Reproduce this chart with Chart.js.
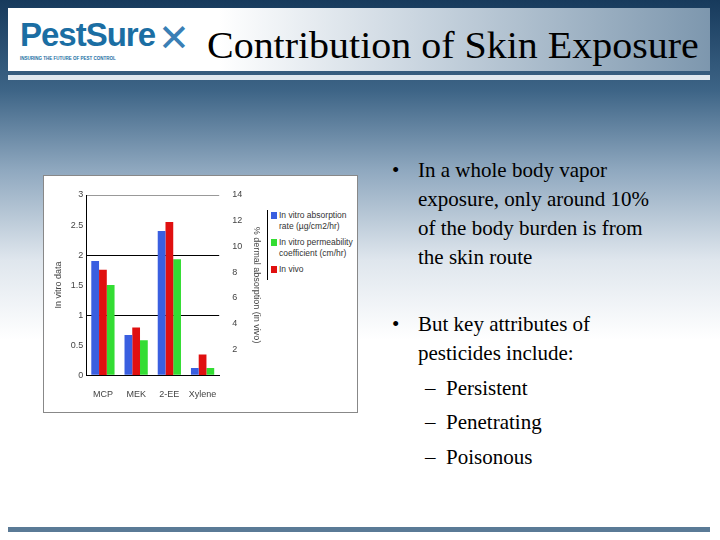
<!DOCTYPE html>
<html><head><meta charset="utf-8">
<script src="https://cdn.jsdelivr.net/npm/chart.js"></script>
<style>
body{margin:0;width:720px;height:540px;overflow:hidden;position:relative;font-family:"Liberation Serif",serif;
background:linear-gradient(180deg,#173a5c 0px,#3d6486 90px,#8fa8bf 170px,#dfe6ed 260px,#ffffff 340px,#ffffff 100%);}
#hdr{position:absolute;left:8px;top:8px;width:702px;height:63px;background:linear-gradient(90deg,#fff 0%,#fff 30%,#c7d3de 60%,#7d97ae 100%);}
#bar{position:absolute;left:8px;top:75px;width:702px;height:5px;background:#dfe7ee;}
#bot{position:absolute;left:8px;top:527px;width:702px;height:5px;background:#5a7a96;}
#logo{position:absolute;left:20px;top:16px;font-family:"Liberation Sans",sans-serif;font-weight:bold;font-size:33px;color:#1b6ea3;letter-spacing:-1px}
#tag{position:absolute;left:20px;top:56px;font-family:"Liberation Sans";font-size:4.5px;font-weight:bold;color:#1b6ea3}
#x{position:absolute;left:158px;top:16px;font-family:"DejaVu Sans";font-size:38px;color:#3a7fb5}
#title{position:absolute;left:207px;top:24px;font-size:37px;color:#000;transform:scaleX(1.08);transform-origin:left}
#box{position:absolute;left:43px;top:175px;width:313px;height:236px;background:#fff;border:1px solid #888}
#wrap{position:absolute;left:43px;top:175px;width:224px;height:237px}
#leg{position:absolute;left:267px;top:210px;border-left:1px solid #000;padding-left:3px;font-family:"Liberation Sans";font-size:8.5px;color:#333;line-height:11px;width:86px}
#leg div{margin-bottom:5px;position:relative;padding-left:8px}
#leg span{position:absolute;left:0;top:2px;width:6px;height:7px}
.t{position:absolute;font-size:21px;color:#000;line-height:29px}
</style></head><body>
<div id="hdr"></div><div id="bar"></div><div id="bot"></div>
<div id="logo">PestSure</div><div id="tag">INSURING THE FUTURE OF PEST CONTROL</div><div id="x">✕</div>
<div id="title">Contribution of Skin Exposure</div>
<div id="box"></div>
<div id="wrap"><canvas id="c"></canvas></div>
<div id="leg">
<div><span style="background:#3a5fe0"></span>In vitro absorption rate (µg/cm2/hr)</div>
<div><span style="background:#33dd33"></span>In vitro permeability coefficient (cm/hr)</div>
<div><span style="background:#e01010"></span>In vivo</div>
</div>
<div class="t" style="left:392px;top:156px">•</div>
<div class="t" style="left:418px;top:156px">In a whole body vapor<br>exposure, only around 10%<br>of the body burden is from<br>the skin route</div>
<div class="t" style="left:392px;top:310px">•</div>
<div class="t" style="left:418px;top:310px">But key attributes of<br>pesticides include:</div>
<div class="t" style="left:425px;top:374px">–&nbsp; Persistent</div>
<div class="t" style="left:425px;top:408px">–&nbsp; Penetrating</div>
<div class="t" style="left:425px;top:443px">–&nbsp; Poisonous</div>
<script>
const categories=["MCP","MEK","2-EE","Xylene"];
const absorptionRate=[1.9,0.67,2.4,0.12];
const inVivo=[8.2,3.7,11.9,1.6];
const permeability=[1.5,0.58,1.93,0.12];
const f={family:"Liberation Sans",size:9};
new Chart(document.getElementById('c'),{type:'bar',
data:{labels:categories,datasets:[
{label:'In vitro absorption rate (µg/cm2/hr)',data:absorptionRate,backgroundColor:'#3a5fe0',yAxisID:'y',order:1},
{label:'In vivo',data:inVivo,backgroundColor:'#e01010',yAxisID:'y1',order:2},
{label:'In vitro permeability coefficient (cm/hr)',data:permeability,backgroundColor:'#33dd33',yAxisID:'y',order:3}]},
options:{responsive:true,maintainAspectRatio:false,animation:false,
layout:{padding:{top:20,bottom:6,left:6,right:1}},
datasets:{bar:{categoryPercentage:0.7,barPercentage:1}},
plugins:{legend:{display:false},tooltip:{enabled:false}},
scales:{
x:{grid:{display:false},border:{color:'#000'},ticks:{font:f,color:'#444',maxRotation:0,minRotation:0,autoSkip:false,padding:6}},
y:{min:0,max:3,position:'left',ticks:{stepSize:0.5,font:f,color:'#444',callback:v=>String(v)},
 grid:{color:c=>c.tick.value%1===0?(c.tick.value===3?'#999':'#000'):'rgba(0,0,0,0)',drawTicks:false},border:{color:'#000'},
 title:{display:true,text:'In vitro data',font:f,color:'#444'}},
y1:{min:0,max:14,position:'right',ticks:{stepSize:2,font:f,color:'#444',padding:5,callback:v=>v===0?'':v},
 grid:{display:false},border:{display:false},
 title:{display:true,text:'% dermal absorption (in vivo)',font:f,color:'#444'}}}}});
</script></body></html>
